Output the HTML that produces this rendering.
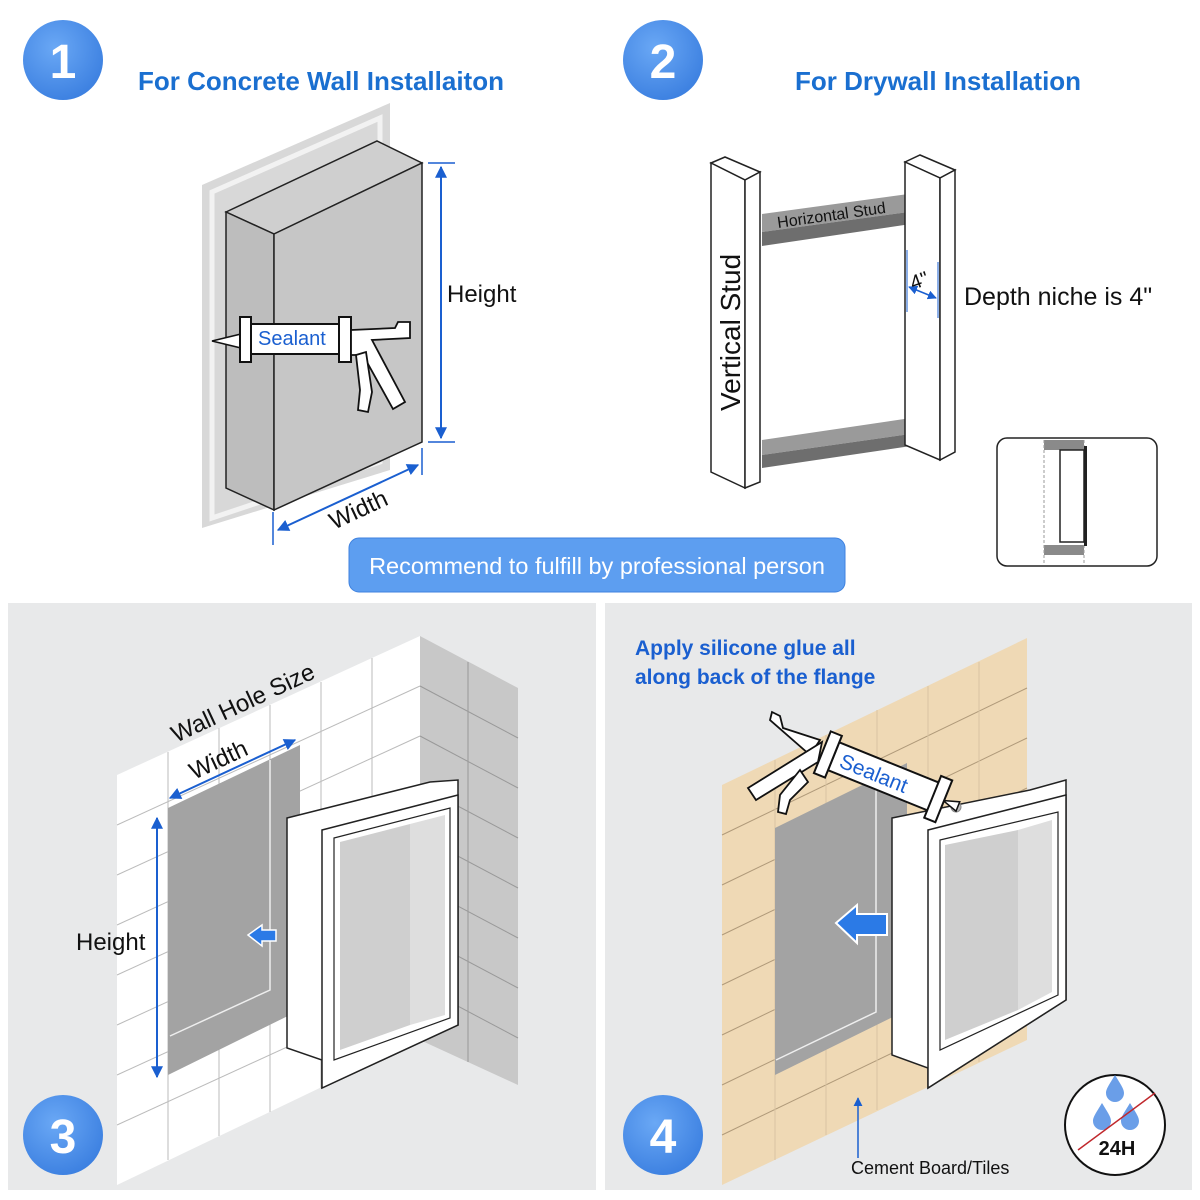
<!DOCTYPE html>
<html><head><meta charset="utf-8"><style>
html,body{margin:0;padding:0;background:#fff;}
svg{display:block;font-family:"Liberation Sans",Arial,sans-serif;}
</style></head><body>
<svg width="1200" height="1200" viewBox="0 0 1200 1200" xmlns="http://www.w3.org/2000/svg">
<defs>
<radialGradient id="cg" cx="40%" cy="35%" r="70%"><stop offset="0" stop-color="#6aa8f5"/><stop offset="1" stop-color="#3b7fe0"/></radialGradient>
<marker id="ah" viewBox="0 0 10 10" refX="9" refY="5" markerWidth="6" markerHeight="6" orient="auto-start-reverse"><path d="M0,0L10,5L0,10z" fill="#1a5fd0"/></marker>
</defs>
<rect width="1200" height="1200" fill="#fff"/>
<circle cx="63" cy="60" r="40" fill="url(#cg)"/>
<text x="63" y="78" font-size="48" font-weight="bold" fill="#fff" text-anchor="middle">1</text>
<text x="138" y="90" font-size="26" font-weight="bold" fill="#1a6fd0">For Concrete Wall Installaiton</text>
<circle cx="663" cy="60" r="40" fill="url(#cg)"/>
<text x="663" y="78" font-size="48" font-weight="bold" fill="#fff" text-anchor="middle">2</text>
<text x="795" y="90" font-size="26" font-weight="bold" fill="#1a6fd0">For Drywall Installation</text>

<polygon points="202,185 390,103 390,470 202,528" fill="#d8d8d8"/>
<polygon points="212,192 380,118 380,462 212,518" fill="none" stroke="#f2f2f2" stroke-width="5"/>
<polygon points="226,212 377,141 422,163 274,234" fill="#cfcfcf" stroke="#222" stroke-width="1.5"/>
<polygon points="226,212 274,234 274,510 226,488" fill="#bdbdbd" stroke="#222" stroke-width="1.5"/>
<polygon points="274,234 422,163 422,442 274,510" fill="#c6c6c6" stroke="#222" stroke-width="1.5"/>
<polygon points="212,341 241,334 241,348" fill="#fff" stroke="#111" stroke-width="1.5"/>
<rect x="250" y="324" width="90" height="30" fill="#fff" stroke="#111" stroke-width="2"/>
<rect x="240" y="317" width="11" height="45" fill="#fff" stroke="#111" stroke-width="2"/>
<rect x="339" y="317" width="12" height="45" fill="#fff" stroke="#111" stroke-width="2"/>
<path d="M351,330 L395,328 L398,322 L410,322 L410,338 L372,340 L405,402 L393,409 L363,355 L351,355 Z" fill="#fff" stroke="#111" stroke-width="1.8"/>
<path d="M356,355 L366,352 L372,392 L368,412 L358,410 L360,390 Z" fill="#fff" stroke="#111" stroke-width="1.8"/>
<text x="258" y="345" font-size="20" fill="#1a5fd0">Sealant</text>
<line x1="428" y1="163" x2="455" y2="163" stroke="#1a5fd0" stroke-width="1.5"/>
<line x1="428" y1="442" x2="455" y2="442" stroke="#1a5fd0" stroke-width="1.5"/>
<line x1="441" y1="167" x2="441" y2="438" stroke="#1a5fd0" stroke-width="2" marker-start="url(#ah)" marker-end="url(#ah)"/>
<text x="447" y="302" font-size="24" fill="#111">Height</text>
<line x1="273" y1="512" x2="273" y2="545" stroke="#1a5fd0" stroke-width="1.5"/>
<line x1="422" y1="448" x2="422" y2="475" stroke="#1a5fd0" stroke-width="1.5"/>
<line x1="278" y1="530" x2="418" y2="465" stroke="#1a5fd0" stroke-width="2" marker-start="url(#ah)" marker-end="url(#ah)"/>
<text x="0" y="0" font-size="24" fill="#111" transform="translate(334,530) rotate(-25)">Width</text>

<rect x="349" y="538" width="496" height="54" rx="10" fill="#5d9ef0" stroke="#3f82df"/>
<text x="597" y="574" font-size="23.5" fill="#fff" text-anchor="middle">Recommend to fulfill by professional person</text>

<polygon points="762,214 938,190 938,208 762,232" fill="#9a9a9a"/>
<polygon points="762,232 938,208 938,220 762,246" fill="#6e6e6e"/>
<text x="0" y="0" font-size="16" fill="#111" transform="translate(778,228) rotate(-8)">Horizontal Stud</text>
<polygon points="762,440 938,414 938,430 762,455" fill="#9a9a9a"/>
<polygon points="762,455 938,430 938,442 762,468" fill="#6e6e6e"/>
<polygon points="711,163 725,157 760,172 745,180" fill="#fff" stroke="#222" stroke-width="1.5"/>
<polygon points="711,163 745,180 745,488 711,472" fill="#fff" stroke="#222" stroke-width="1.5"/>
<polygon points="745,180 760,172 760,482 745,488" fill="#fff" stroke="#222" stroke-width="1.5"/>
<text x="0" y="0" font-size="28" fill="#111" transform="translate(740,411) rotate(-90)">Vertical Stud</text>
<polygon points="905,162 920,155 955,170 940,178" fill="#fff" stroke="#222" stroke-width="1.5"/>
<polygon points="905,162 940,178 940,460 905,445" fill="#fff" stroke="#222" stroke-width="1.5"/>
<polygon points="940,178 955,170 955,452 940,460" fill="#fff" stroke="#222" stroke-width="1.5"/>
<line x1="907" y1="250" x2="907" y2="312" stroke="#1a5fd0"/>
<line x1="938" y1="262" x2="938" y2="318" stroke="#1a5fd0"/>
<line x1="909" y1="287" x2="936" y2="298" stroke="#1a5fd0" stroke-width="1.5" marker-start="url(#ah)" marker-end="url(#ah)"/>
<text x="0" y="0" font-size="20" fill="#111" transform="translate(913,290) rotate(-20)">4"</text>
<text x="964" y="305" font-size="25" fill="#111">Depth niche is 4"</text>
<rect x="997" y="438" width="160" height="128" rx="10" fill="#fff" stroke="#222" stroke-width="1.5"/>
<rect x="1044" y="440" width="40" height="10" fill="#8a8a8a"/>
<rect x="1044" y="545" width="40" height="10" fill="#8a8a8a"/>
<line x1="1044" y1="440" x2="1044" y2="564" stroke="#999" stroke-dasharray="3,2"/>
<line x1="1084" y1="440" x2="1084" y2="564" stroke="#999" stroke-dasharray="3,2"/>
<rect x="1060" y="450" width="24" height="92" fill="#fff" stroke="#222" stroke-width="1.5"/>
<rect x="1084" y="446" width="3" height="100" fill="#222"/>

<rect x="8" y="603" width="588" height="587" fill="#e8e9ea"/>
<rect x="605" y="603" width="587" height="587" fill="#e8e9ea"/>

<polygon points="117,775 420,636 420,1040 117,1185" fill="#fff"/>
<g stroke="#bbb" stroke-width="1">
<line x1="117" y1="825" x2="420" y2="686"/><line x1="117" y1="875" x2="420" y2="736"/><line x1="117" y1="925" x2="420" y2="786"/><line x1="117" y1="975" x2="420" y2="836"/><line x1="117" y1="1025" x2="420" y2="886"/><line x1="117" y1="1075" x2="420" y2="936"/><line x1="117" y1="1125" x2="420" y2="986"/>
<line x1="168" y1="752" x2="168" y2="1160"/><line x1="219" y1="728" x2="219" y2="1136"/><line x1="270" y1="705" x2="270" y2="1112"/><line x1="321" y1="682" x2="321" y2="1088"/><line x1="372" y1="658" x2="372" y2="1064"/>
</g>
<polygon points="420,636 518,688 518,1085 420,1040" fill="#c8c8c8"/>
<g stroke="#999"><line x1="468" y1="662" x2="468" y2="1062"/>
<line x1="420" y1="686" x2="518" y2="738"/><line x1="420" y1="736" x2="518" y2="788"/><line x1="420" y1="786" x2="518" y2="838"/><line x1="420" y1="836" x2="518" y2="888"/><line x1="420" y1="886" x2="518" y2="938"/><line x1="420" y1="936" x2="518" y2="988"/><line x1="420" y1="986" x2="518" y2="1038"/></g>
<polygon points="168,808 300,745 300,1010 168,1075" fill="#a3a3a3"/>
<polyline points="270,760 270,990 170,1036" fill="none" stroke="#eee" stroke-width="1.5"/>
<polygon points="287,818 430,782 458,780 458,1025 322,1088 322,1060 287,1048" fill="#fff" stroke="#222" stroke-width="1.5"/>
<polygon points="322,830 458,795 458,1025 322,1088" fill="#fff" stroke="#222" stroke-width="1.5"/>
<polygon points="334,838 450,808 450,1018 334,1060" fill="#fff" stroke="#222" stroke-width="1.2"/>
<polygon points="340,842 410,824 410,1025 340,1050" fill="#cfcfcf"/>
<polygon points="410,824 445,815 445,1015 410,1025" fill="#dedede"/>
<path d="M248,935 L262,925 L262,930 L276,930 L276,941 L262,941 L262,946 Z" fill="#2b7ae6" stroke="#fff" stroke-width="1.5"/>
<line x1="157" y1="818" x2="157" y2="1077" stroke="#1a5fd0" stroke-width="2" marker-start="url(#ah)" marker-end="url(#ah)"/>
<line x1="170" y1="798" x2="295" y2="740" stroke="#1a5fd0" stroke-width="2" marker-start="url(#ah)" marker-end="url(#ah)"/>
<text x="76" y="950" font-size="24" fill="#111">Height</text>
<text x="0" y="0" font-size="24" fill="#111" transform="translate(194,780) rotate(-25)">Width</text>
<text x="0" y="0" font-size="24" fill="#111" transform="translate(176,743) rotate(-25)">Wall Hole Size</text>
<circle cx="63" cy="1135" r="40" fill="url(#cg)"/>
<text x="63" y="1153" font-size="48" font-weight="bold" fill="#fff" text-anchor="middle">3</text>

<polygon points="722,785 1027,638 1027,1040 722,1185" fill="#efd9b5"/>
<g stroke="#b09a7a" stroke-width="1">
<line x1="722" y1="835" x2="1027" y2="688"/><line x1="722" y1="885" x2="1027" y2="738"/><line x1="722" y1="935" x2="1027" y2="788"/><line x1="722" y1="985" x2="1027" y2="838"/><line x1="722" y1="1035" x2="1027" y2="888"/><line x1="722" y1="1085" x2="1027" y2="938"/><line x1="722" y1="1135" x2="1027" y2="988"/>
</g>
<g stroke="#d8c4a2"><line x1="775" y1="760" x2="775" y2="1160"/><line x1="826" y1="735" x2="826" y2="1135"/><line x1="877" y1="710" x2="877" y2="1110"/><line x1="928" y1="686" x2="928" y2="1086"/><line x1="979" y1="662" x2="979" y2="1062"/></g>
<polygon points="775,828 907,763 907,1010 775,1075" fill="#a3a3a3"/>
<polyline points="876,790 876,1012 776,1060" fill="none" stroke="#eee" stroke-width="1.5"/>
<polygon points="892,818 1030,790 1066,780 1066,1000 928,1088 928,1068 892,1055" fill="#fff" stroke="#222" stroke-width="1.5"/>
<polygon points="928,830 1066,795 1066,1000 928,1088" fill="#fff" stroke="#222" stroke-width="1.5"/>
<polygon points="940,840 1058,812 1058,995 940,1050" fill="#fff" stroke="#222" stroke-width="1.2"/>
<polygon points="945,845 1018,830 1018,1010 945,1040" fill="#cfcfcf"/>
<polygon points="1018,830 1052,820 1052,992 1018,1010" fill="#dedede"/>
<circle cx="956" cy="807" r="5" fill="#bbb" stroke="#888"/>
<path d="M836,923 L857,905 L857,914 L887,914 L887,935 L857,935 L857,943 Z" fill="#2b7ae6" stroke="#fff" stroke-width="2"/>
<g transform="translate(880,775) rotate(22)">
<polygon points="68,0 84,-5 84,5" fill="#fff" stroke="#111" stroke-width="1.5"/>
<rect x="-50" y="-15" width="110" height="30" fill="#fff" stroke="#111" stroke-width="2"/>
<rect x="-62" y="-22" width="12" height="45" fill="#fff" stroke="#111" stroke-width="2"/>
<rect x="57" y="-22" width="12" height="45" fill="#fff" stroke="#111" stroke-width="2"/>
<text x="-42" y="8" font-size="21" fill="#1a5fd0">Sealant</text>
</g>
<path d="M810,755 L770,720 L772,712 L780,716 L783,728 L820,740 Z" fill="#fff" stroke="#111" stroke-width="1.8"/>
<path d="M822,742 L748,788 L756,800 L818,762 Z" fill="#fff" stroke="#111" stroke-width="1.8"/>
<path d="M800,770 L808,782 L790,800 L786,814 L778,812 L780,795 Z" fill="#fff" stroke="#111" stroke-width="1.8"/>
<text x="635" y="655" font-size="21" font-weight="bold" fill="#1a5fd0">Apply silicone glue all</text>
<text x="635" y="684" font-size="21" font-weight="bold" fill="#1a5fd0">along back of the flange</text>
<line x1="858" y1="1158" x2="858" y2="1098" stroke="#1a5fd0" stroke-width="1.5" marker-end="url(#ah)"/>
<text x="851" y="1174" font-size="18" fill="#111">Cement Board/Tiles</text>
<circle cx="1115" cy="1125" r="50" fill="#fff" stroke="#111" stroke-width="2"/>
<path d="M1115,1105 c-6,10 -9,14 -9,18 a9,9 0 0 0 18,0 c0,-4 -3,-8 -9,-18z" fill="#6a9ee8" transform="translate(0,-30)"/>
<path d="M1102,1103 c-6,10 -9,14 -9,18 a9,9 0 0 0 18,0 c0,-4 -3,-8 -9,-18z" fill="#6a9ee8"/>
<path d="M1130,1103 c-6,10 -9,14 -9,18 a9,9 0 0 0 18,0 c0,-4 -3,-8 -9,-18z" fill="#6a9ee8"/>
<line x1="1078" y1="1150" x2="1155" y2="1093" stroke="#c0282d" stroke-width="1.5"/>
<text x="1117" y="1155" font-size="20" font-weight="bold" fill="#111" text-anchor="middle">24H</text>
<circle cx="663" cy="1135" r="40" fill="url(#cg)"/>
<text x="663" y="1153" font-size="48" font-weight="bold" fill="#fff" text-anchor="middle">4</text>
</svg>
</body></html>
